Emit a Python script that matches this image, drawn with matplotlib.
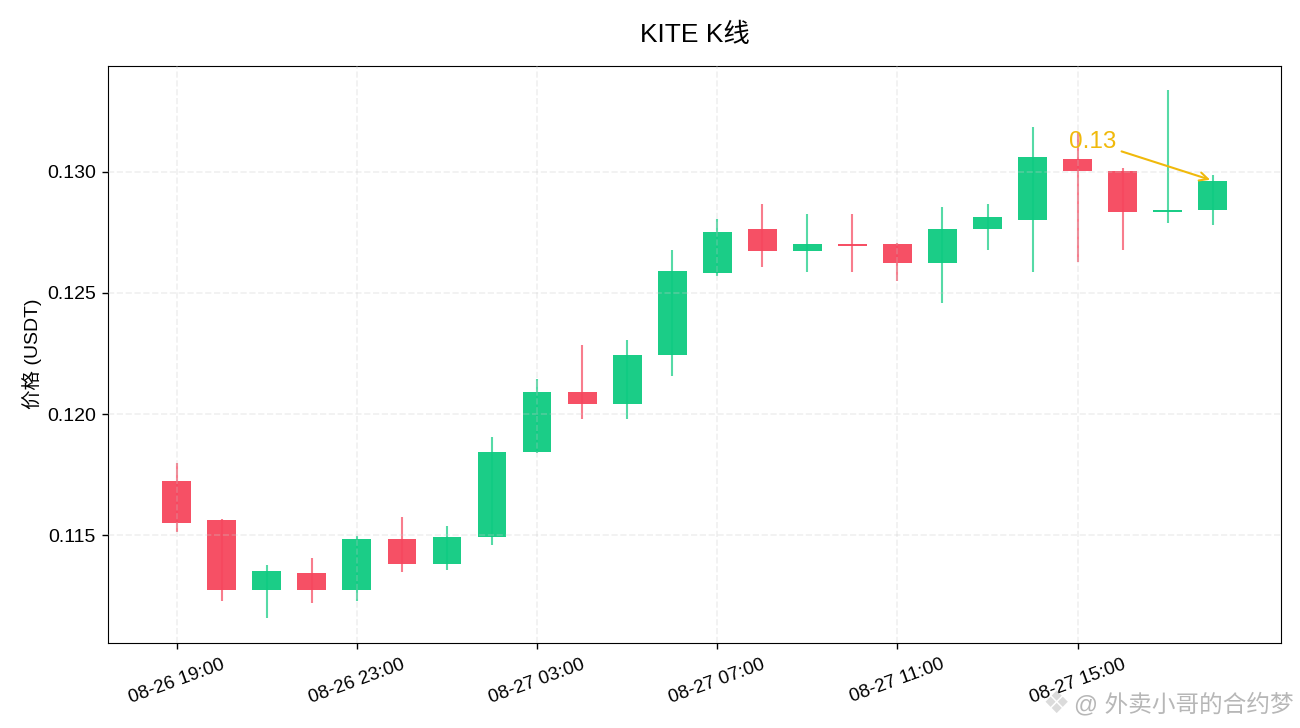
# KITE candlestick chart

# Import Libraries
import matplotlib
matplotlib.use("Agg")
import matplotlib.pyplot as plt

plt.rcParams['font.family'] = ['Liberation Sans', 'Noto Sans CJK SC', 'DejaVu Sans']

# Candle data (hourly)
opens = [0.11725, 0.11564, 0.11276, 0.11346, 0.11276, 0.11486, 0.11383, 0.11494,
         0.11845, 0.12092, 0.12043, 0.12245, 0.12583, 0.12765, 0.12674, 0.12703,
         0.12703, 0.12625, 0.12765, 0.12802, 0.13054, 0.13004, 0.12835, 0.12843]
highs = [0.11800, 0.11569, 0.11379, 0.11408, 0.11498, 0.11577, 0.11540, 0.11907,
         0.12146, 0.12286, 0.12307, 0.12678, 0.12806, 0.12868, 0.12827, 0.12827,
         0.12707, 0.12856, 0.12868, 0.13186, 0.13161, 0.13017, 0.13338, 0.12988]
lows = [0.11515, 0.11230, 0.11160, 0.11222, 0.11230, 0.11350, 0.11358, 0.11461,
        0.11841, 0.11981, 0.11981, 0.12158, 0.12571, 0.12608, 0.12587, 0.12587,
        0.12550, 0.12460, 0.12678, 0.12587, 0.12629, 0.12678, 0.12790, 0.12781]
closes = [0.11552, 0.11276, 0.11354, 0.11276, 0.11486, 0.11383, 0.11494, 0.11845,
          0.12092, 0.12043, 0.12245, 0.12592, 0.12752, 0.12674, 0.12703, 0.12695,
          0.12625, 0.12765, 0.12814, 0.13062, 0.13004, 0.12835, 0.12843, 0.12963]

tick_positions = [0, 4, 8, 12, 16, 20]
tick_labels = ['08-26 19:00', '08-26 23:00', '08-27 03:00',
               '08-27 07:00', '08-27 11:00', '08-27 15:00']
y_ticks = [0.115, 0.120, 0.125, 0.130]

RED = '#F6465D'
GREEN = '#0ECB81'
GOLD = '#F0B90B'

fig = plt.figure(figsize=(13, 7.28), dpi=100)
ax = fig.add_axes([107.8 / 1300, 1 - 642.7 / 728, 1173.4 / 1300, 577 / 728])

# Draw candles
for i in range(len(opens)):
    color = GREEN if closes[i] >= opens[i] else RED
    ax.vlines(i, lows[i], highs[i], color=color, linewidth=1.5, alpha=0.7, zorder=1)
    ax.bar(i, abs(closes[i] - opens[i]), bottom=min(opens[i], closes[i]),
           width=0.64, color=color, alpha=0.95, zorder=1.5)

ax.set_xlim(-1.53, 24.52)
ax.set_ylim(0.11057, 0.13437)
ax.set_xticks(tick_positions)
ax.set_xticklabels(tick_labels, rotation=20, ha='center', fontsize=13.5)
ax.set_yticks(y_ticks)
ax.set_yticklabels(['%.3f' % v for v in y_ticks], fontsize=14)
ax.tick_params(axis='both', length=4.5, width=1, color='black', pad=5)
ax.tick_params(axis='y', pad=4)
ax.set_ylabel('价格 (USDT)', fontsize=14, labelpad=3.5)
ax.grid(True, linestyle='--', linewidth=1.2, color='#cccccc', alpha=0.3, zorder=2)
ax.set_axisbelow(False)
ax.set_title('KITE K线', fontsize=19, pad=17)

ax.annotate('0.13', xy=(23, closes[23]), xytext=(20.33, 0.13122),
            color=GOLD, fontsize=17.5, ha='center', va='center',
            arrowprops=dict(arrowstyle='->', color=GOLD, linewidth=1.5,
                            mutation_scale=15))

# Watermark
fig.text(1056 / 1300, 1 - 704 / 728, '\u2756', family='DejaVu Sans', fontsize=22,
         color='#999999', alpha=0.35, ha='center', va='center')
fig.text(1294 / 1300, 1 - 704.5 / 728, '@ 外卖小哥的合约梦', fontsize=17,
         color='#999999', alpha=0.7, ha='right', va='center')

fig.savefig('out.png', dpi=100)
